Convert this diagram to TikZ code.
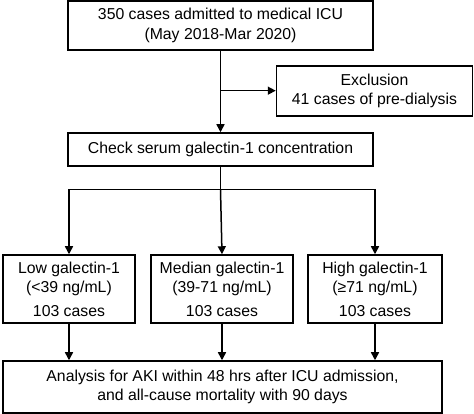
\documentclass[tikz,border=0pt]{standalone}
\usepackage{fontspec}
\setmainfont{Liberation Sans}
\usepackage{tikz}
\usetikzlibrary{arrows.meta, positioning, calc}

\tikzset{
    flowbox/.style={draw, line width=1.5pt, align=center, inner sep=0pt,
        font=\fontsize{15.8}{19.5}\selectfont},
    arr/.style={line width=1.5pt, -{Triangle[length=8pt,width=8pt]}}
}

\begin{document}
\begin{tikzpicture}[x=1pt, y=1pt]
    \useasboundingbox (0,0) rectangle (474,414);

    % Boxes (y counted from bottom)
    \node[flowbox, minimum width=305, minimum height=49] (admit) at (220.5, 388.5)
        {350 cases admitted to medical ICU\\(May 2018-Mar 2020)};
    \node[flowbox, minimum width=196, minimum height=50] (excl) at (374.5, 323)
        {Exclusion\\41 cases of pre-dialysis};
    \node[flowbox, minimum width=305, minimum height=33] (check) at (220.5, 264.5)
        {Check serum galectin-1 concentration};

    \node[flowbox, minimum width=132, minimum height=68] (low) at (69, 125)
        {Low galectin-1\\(<39 ng/mL)\\[4pt]103 cases};
    \node[flowbox, minimum width=142, minimum height=68] (med) at (222, 125)
        {Median galectin-1\\(39-71 ng/mL)\\[4pt]103 cases};
    \node[flowbox, minimum width=134, minimum height=68] (high) at (375, 125)
        {High galectin-1\\(≥71 ng/mL)\\[4pt]103 cases};

    \node[flowbox, minimum width=439, minimum height=52] (analysis) at (222.5, 27)
        {Analysis for AKI within 48 hrs after ICU admission,\\and all-cause mortality with 90 days};

    % Main flow
    \draw[arr] (admit.south) -- (check.north);
    \coordinate (split) at ($(admit.south)!0.49!(check.north)$);
    \draw[arr] (split) -- (split -| excl.west);

    % Branches
    \draw[line width=1.5pt] (check.south) -- ++(0,-23) coordinate (fork);
    \draw[arr] (fork) -| (low.north);
    \draw[arr] (fork) -| (high.north);
    \draw[arr] (fork) -- (med.north);

    % Into final box
    \foreach \grp in {low, med, high}
        \draw[arr] (\grp.south) -- (\grp.south |- analysis.north);
\end{tikzpicture}
\end{document}
